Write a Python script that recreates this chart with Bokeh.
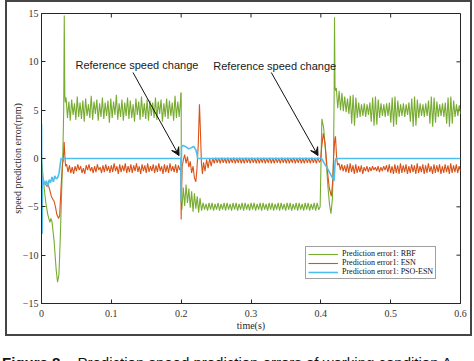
import numpy as np
from bokeh.plotting import figure
from bokeh.layouts import column
from bokeh.models import (Range1d, FixedTicker, Label, Arrow, VeeHead, Legend, LegendItem, Div)
from bokeh.embed import file_html
from bokeh.resources import INLINE

# ---------------- data ----------------
x_ticks = [0, 0.1, 0.2, 0.3, 0.4, 0.5, 0.6]
y_ticks = [-15, -10, -5, 0, 5, 10, 15]
series_names = ["Prediction error1: RBF", "Prediction error1: ESN", "Prediction error1: PSO-ESN"]

# RBF (green)
rbf_start_t = [0.000, 0.003, 0.006, 0.009, 0.012, 0.0135, 0.015, 0.018, 0.021, 0.023, 0.025, 0.027,
               0.029, 0.0305, 0.0318, 0.0326, 0.0334, 0.0342]
rbf_start_v = [0.0, -2.5, -4.5, -5.8, -6.6, -6.2, -6.5, -8.5, -11.5, -12.8, -12.0, -8.0,
               -3.0, 0.2, 5.0, 14.8, 6.5, 5.8]
rbf_band1 = [6.3, 4.2, 5.9, 3.9, 6.1, 4.5, 5.7, 4.0, 6.4, 4.3,
             5.8, 4.1, 6.0, 3.8, 6.2, 4.4, 5.6, 4.2, 6.5, 4.0,
             5.9, 4.6, 6.1, 3.9, 5.7, 4.3, 6.3, 4.1, 5.8, 4.4,
             6.0, 3.7, 6.2, 4.2, 5.9, 4.5, 6.6, 4.0, 5.7, 4.3,
             6.1, 3.9, 5.8, 4.4, 6.3, 4.1, 6.0, 4.2, 5.6, 3.8,
             6.2, 4.5, 5.9, 4.0, 6.4, 4.3, 5.7, 4.1, 6.1, 3.9,
             6.0, 4.4, 5.8, 4.2, 6.3, 4.0, 5.9, 4.6, 6.1, 3.8,
             5.7, 4.3, 6.2, 4.1, 6.0, 4.4, 5.8, 3.9, 6.5, 4.2,
             5.9, 4.3, 6.1]
rbf_step1_t = [0.1995, 0.2000, 0.2003, 0.2010, 0.2030, 0.2050, 0.2070, 0.2090, 0.2110, 0.2130,
               0.2150, 0.2170, 0.2190, 0.2210, 0.2230, 0.2250, 0.2270]
rbf_step1_v = [6.8, 6.8, -3.8, -5.3, -3.0, -4.9, -2.7, -4.6, -3.1, -5.1,
               -3.4, -5.5, -3.6, -5.2, -3.9, -5.6, -4.1]
rbf_ripple = [-5.4, -4.6, -5.3, -4.7, -5.4, -4.6, -5.3, -4.6, -5.4, -4.7,
              -5.3, -4.6, -5.4, -4.7, -5.3, -4.6, -5.4, -4.6, -5.3, -4.7,
              -5.4, -4.6, -5.3, -4.6, -5.4, -4.7, -5.3, -4.6, -5.4, -4.6,
              -5.3, -4.7, -5.4, -4.6, -5.3, -4.6, -5.4, -4.7, -5.3, -4.6,
              -5.4, -4.6, -5.3, -4.7, -5.4, -4.6, -5.3, -4.6, -5.4, -4.7,
              -5.3, -4.6, -5.4, -4.6, -5.3, -4.7, -5.4, -4.6, -5.3, -4.6,
              -5.4, -4.7, -5.3, -4.6, -5.4, -4.6, -5.3, -4.7, -5.4, -4.6,
              -5.3, -4.6, -5.4, -4.7, -5.3, -4.6, -5.4, -4.6, -5.3]
rbf_step2_t = [0.3990, 0.4005, 0.4015, 0.4040, 0.4070, 0.4100, 0.4125, 0.4145, 0.4165, 0.4180,
               0.4190, 0.4196, 0.4203, 0.4212]
rbf_step2_v = [-5.0, 0.5, 4.1, 3.2, 0.5, -2.8, -4.8, -5.7, -4.2, -0.5,
               6.0, 14.6, 7.4, 7.0]
rbf_band2 = [7.3, 5.2, 7.0, 5.0, 6.8, 4.9, 6.4, 4.8, 6.2, 4.6,
             6.5, 3.6, 6.6, 3.4, 6.3, 4.2, 5.8, 4.3, 5.6, 4.4,
             5.7, 4.3, 5.6, 4.5, 5.8, 3.8, 6.3, 3.4, 6.4, 3.5,
             6.1, 4.2, 5.7, 4.4, 5.6, 4.3, 5.7, 4.4, 5.8, 3.7,
             6.3, 3.3, 6.4, 3.5, 6.0, 4.3, 5.6, 4.4, 5.7, 4.3,
             5.6, 4.5, 5.8, 3.8, 6.2, 3.3, 6.4, 3.4, 6.1, 4.2,
             5.7, 4.4, 5.6, 4.3, 5.7, 4.4, 6.0, 3.6, 6.4, 3.3,
             6.3, 3.7, 5.9, 4.3, 5.6, 4.4, 5.7, 4.3, 5.8, 3.6,
             6.3, 3.3, 6.4, 3.6, 6.0, 4.3, 5.6, 4.4, 5.5, 4.6]

# ESN (orange)
esn_start_t = [0.000, 0.002, 0.005, 0.008, 0.010, 0.012, 0.014, 0.016, 0.018, 0.020,
               0.022, 0.0245, 0.026, 0.028, 0.030, 0.031, 0.0325, 0.0335, 0.0345]
esn_start_v = [-1.5, -2.3, -2.6, -2.9, -2.8, -3.3, -3.9, -4.2, -4.4, -5.0,
               -5.8, -6.2, -5.9, -3.0, -0.5, -0.3, 1.7, 0.2, -0.8]
esn_band1 = [-0.6, -1.4, -0.7, -1.5, -0.9, -1.6, -0.8, -1.3, -0.6, -1.2,
             -0.8, -1.5, -1.0, -1.6, -0.7, -1.2, -0.6, -1.3, -0.9, -1.5,
             -0.8, -1.4, -0.6, -1.2, -0.9, -1.5, -0.7, -1.4, -0.6, -1.3,
             -0.8, -1.5, -0.7, -1.4, -0.5, -1.3, -0.8, -1.6, -0.6, -1.4,
             -0.7, -1.3, -0.5, -1.5, -0.8, -1.4, -0.6, -1.5, -0.7, -1.3,
             -0.5, -1.4, -0.8, -1.6, -0.6, -1.3, -0.7, -1.5, -0.5, -1.4,
             -0.8, -1.3, -0.6, -1.5, -0.7, -1.4, -0.5, -1.3, -0.8, -1.6,
             -0.6, -1.4, -0.7, -1.5, -0.5, -1.3, -0.8, -1.4, -0.6, -1.5,
             -0.7, -1.2]
esn_step1_t = [0.1995, 0.2000, 0.2004, 0.2015, 0.2030, 0.2050, 0.2070, 0.2090, 0.2110, 0.2130,
               0.2150, 0.2170, 0.2190, 0.2210, 0.2225, 0.2245, 0.2262, 0.2275, 0.2290, 0.2305,
               0.2320, 0.2342, 0.2364, 0.2386, 0.2408, 0.2430]
esn_step1_v = [-1.0, -6.3, -4.0, -0.8, -0.2, 0.4, -0.5, 0.2, -0.9, -0.3,
               -1.5, -0.8, -2.0, -2.4, -1.2, 1.5, 5.6, 3.0, -0.5, -1.6,
               -0.4, -1.3, -0.1, -1.0, 0.0, -0.8]
esn_ripple = [0.05, -0.5, 0.1, -0.45, 0.05, -0.5, 0.1, -0.45, 0.05, -0.5,
              0.1, -0.5, 0.05, -0.45, 0.1, -0.5, 0.05, -0.45, 0.1, -0.5,
              0.05, -0.5, 0.1, -0.45, 0.05, -0.5, 0.1, -0.45, 0.05, -0.5,
              0.1, -0.5, 0.05, -0.45, 0.1, -0.5, 0.05, -0.45, 0.1, -0.5,
              0.05, -0.5, 0.1, -0.45, 0.05, -0.5, 0.1, -0.45, 0.05, -0.5,
              0.1, -0.5, 0.05, -0.45, 0.1, -0.5, 0.05, -0.45, 0.1, -0.5,
              0.05, -0.5, 0.1, -0.45, 0.05, -0.5, 0.1, -0.45, 0.05, -0.5,
              0.1, -0.4]
esn_step2_t = [0.3995, 0.4010, 0.4035, 0.4060, 0.4090, 0.4120, 0.4150, 0.4168, 0.4185, 0.4200,
               0.4210, 0.4225, 0.4240]
esn_step2_v = [-0.2, 1.0, 2.6, 1.6, -1.0, -3.0, -3.9, -2.6, 0.3, 2.0,
               2.3, 0.2, -0.7]
esn_band2 = [-0.5, -1.2, -0.6, -1.3, -0.7, -1.4, -0.6, -1.5, -0.5, -1.4,
             -0.7, -1.6, -0.6, -1.5, -0.8, -1.4, -0.7, -1.6, -0.9, -1.3,
             -0.8, -1.4, -0.9, -1.3, -0.8, -1.2, -0.9, -1.3, -0.8, -1.4,
             -0.9, -1.3, -0.8, -1.2, -0.7, -1.4, -0.6, -1.5, -0.8, -1.6,
             -0.6, -1.5, -0.7, -1.6, -0.5, -1.5, -0.7, -1.4, -0.6, -1.6,
             -0.8, -1.5, -0.6, -1.4, -0.7, -1.6, -0.5, -1.5, -0.8, -1.4,
             -0.6, -1.6, -0.7, -1.5, -0.5, -1.4, -0.8, -1.6, -0.6, -1.5,
             -0.7, -1.4, -0.6, -1.6, -0.8, -1.5, -0.6, -1.4, -0.7, -1.6,
             -0.5, -1.5, -0.7, -1.4, -0.6, -1.5, -0.8, -1.3]

# PSO-ESN (cyan)
pso_t = [0.000, 0.0008, 0.0015, 0.003, 0.005, 0.007, 0.009, 0.011, 0.013, 0.015,
         0.017, 0.019, 0.021, 0.023, 0.025, 0.027, 0.028, 0.1995, 0.2000, 0.2005,
         0.2030, 0.2070, 0.2110, 0.2140, 0.2180, 0.2210, 0.2225, 0.2235, 0.4010, 0.4050,
         0.4100, 0.4150, 0.4190, 0.4205, 0.4215, 0.6000]
pso_v = [3.6, -7.8, -2.0, -2.3, -2.7, -2.3, -2.9, -2.2, -2.5, -1.9,
         -2.4, -1.8, -2.1, -2.0, -1.6, -0.5, 0.0, 0.0, -4.5, 1.2,
         1.35, 1.2, 1.0, 1.1, 1.25, 0.9, 0.5, 0.0, 0.0, -0.5,
         -1.1, -1.8, -2.3, -0.3, 0.0, 0.0]

# annotations (data units)
note_text = "Reference speed change"
note_t = [0.0486, 0.246]
note_v = [9.7, 9.6]
arrow_t0 = [0.131, 0.329]
arrow_v0 = [8.9, 8.9]
arrow_t1 = [0.197, 0.396]
arrow_v1 = [0.3, 0.3]
caption_bold = "Figure 8."
caption_rest = "Prediction speed prediction errors of working condition A"

# ---------------- assemble series ----------------
def grid(start, step, vals):
    return list(start + step * np.arange(len(vals)))

rbf_t = (rbf_start_t + grid(0.0352, 0.002, rbf_band1) + rbf_step1_t +
         grid(0.2292, 0.00215, rbf_ripple) + rbf_step2_t + grid(0.4222, 0.002, rbf_band2))
rbf_v = rbf_start_v + rbf_band1 + rbf_step1_v + rbf_ripple + rbf_step2_v + rbf_band2

esn_t = (esn_start_t + grid(0.036, 0.002, esn_band1) + esn_step1_t +
         grid(0.2452, 0.00215, esn_ripple) + esn_step2_t + grid(0.426, 0.002, esn_band2))
esn_v = esn_start_v + esn_band1 + esn_step1_v + esn_ripple + esn_step2_v + esn_band2

GREEN = "#77AC30"
ORANGE = "#D95319"
CYAN = "#4DBEEE"
AX = "#262626"
SERIF = "Liberation Serif"
SANS = "Liberation Sans"

p = figure(width=474, height=348, output_backend="svg", toolbar_location=None,
           x_range=Range1d(0, 0.6), y_range=Range1d(-15, 15),
           min_border_left=41, min_border_right=14, min_border_top=13, min_border_bottom=45)
p.xgrid.visible = False
p.ygrid.visible = False
p.outline_line_color = AX
p.outline_line_width = 1
p.background_fill_color = "white"
p.border_fill_color = "white"
p.margin = 0

# dark picture frame drawn around the chart (CSS overlay)
p.stylesheets = [":host::after { content: ''; position: fixed; left: 5px; top: 0px; "
                 "width: 467px; height: 336px; box-sizing: border-box; "
                 "border: 2px solid #454545; pointer-events: none; }"]

p.xaxis.ticker = FixedTicker(ticks=x_ticks)
p.yaxis.ticker = FixedTicker(ticks=y_ticks)
p.xaxis.major_label_overrides = {0: "0"}
for ax in (p.xaxis[0], p.yaxis[0]):
    ax.axis_line_color = AX
    ax.major_tick_line_color = AX
    ax.major_tick_in = 4
    ax.major_tick_out = 0
    ax.minor_tick_line_color = None
    ax.major_label_text_font = SERIF
    ax.major_label_text_font_size = "10px"
    ax.major_label_text_color = "#333333"
    ax.axis_label_text_font = SERIF
    ax.axis_label_text_font_size = "10px"
    ax.axis_label_text_font_style = "normal"
    ax.axis_label_text_color = "#262626"
p.xaxis.major_label_standoff = 6
p.yaxis.major_label_standoff = 3
p.xaxis.axis_label = "time(s)"
p.yaxis.axis_label = "speed prediction error(rpm)"
p.xaxis.axis_label_standoff = 0
p.yaxis.axis_label_standoff = -3

# inward ticks on the top and right edges of the box
n_x = len(x_ticks)
n_y = len(y_ticks)
p.segment(x0=x_ticks, y0=[15] * n_x, x1=x_ticks, y1=[15 - 0.42] * n_x, line_color=AX, line_width=1)
p.segment(x0=[0.6] * n_y, y0=y_ticks, x1=[0.6 - 0.0058] * n_y, y1=y_ticks, line_color=AX, line_width=1)

r1 = p.line(rbf_t, rbf_v, line_color=GREEN, line_width=1.1)
r2 = p.line(esn_t, esn_v, line_color=ORANGE, line_width=1.1)
r3 = p.line(pso_t, pso_v, line_color=CYAN, line_width=1.6)

legend = Legend(items=[LegendItem(label=series_names[0], renderers=[r1]),
                       LegendItem(label=series_names[1], renderers=[r2]),
                       LegendItem(label=series_names[2], renderers=[r3])],
                location=(264, 24))
legend.label_text_font = SERIF
legend.label_text_font_size = "8px"
legend.label_text_color = "#111111"
legend.glyph_width = 30
legend.glyph_height = 8
legend.label_height = 8
legend.spacing = 0
legend.padding = 2
legend.margin = 0
legend.label_standoff = 4
legend.border_line_color = "#444444"
legend.border_line_width = 1
legend.background_fill_alpha = 1
p.add_layout(legend)

for i in range(2):
    p.add_layout(Label(x=note_t[i], y=note_v[i], text=note_text, text_font=SANS,
                       text_font_size="11px", text_color="#1a1a1a", text_baseline="middle"))
    p.add_layout(Arrow(end=VeeHead(size=8, fill_color="#111111", line_color="#111111", line_width=1),
                       x_start=arrow_t0[i], y_start=arrow_v0[i], x_end=arrow_t1[i], y_end=arrow_v1[i],
                       line_color="#111111", line_width=1))

# caption strip below the chart, cut by the window's bottom edge as in the reference
caption = Div(
    text=('<div style="font-family: \'Liberation Sans\', Arial, sans-serif; font-size: 15px; '
          'line-height: 17px; color: #111111; white-space: nowrap; padding: 6px 0 0 2px;">'
          '<b>' + caption_bold + '</b><span style="margin-left: 13px;">' + caption_rest +
          '</span></div>'),
    width=474, height=13, margin=0,
    styles={"overflow": "hidden"})

layout = column(p, caption, spacing=0)
open("out.html", "w").write(file_html(layout, INLINE))
